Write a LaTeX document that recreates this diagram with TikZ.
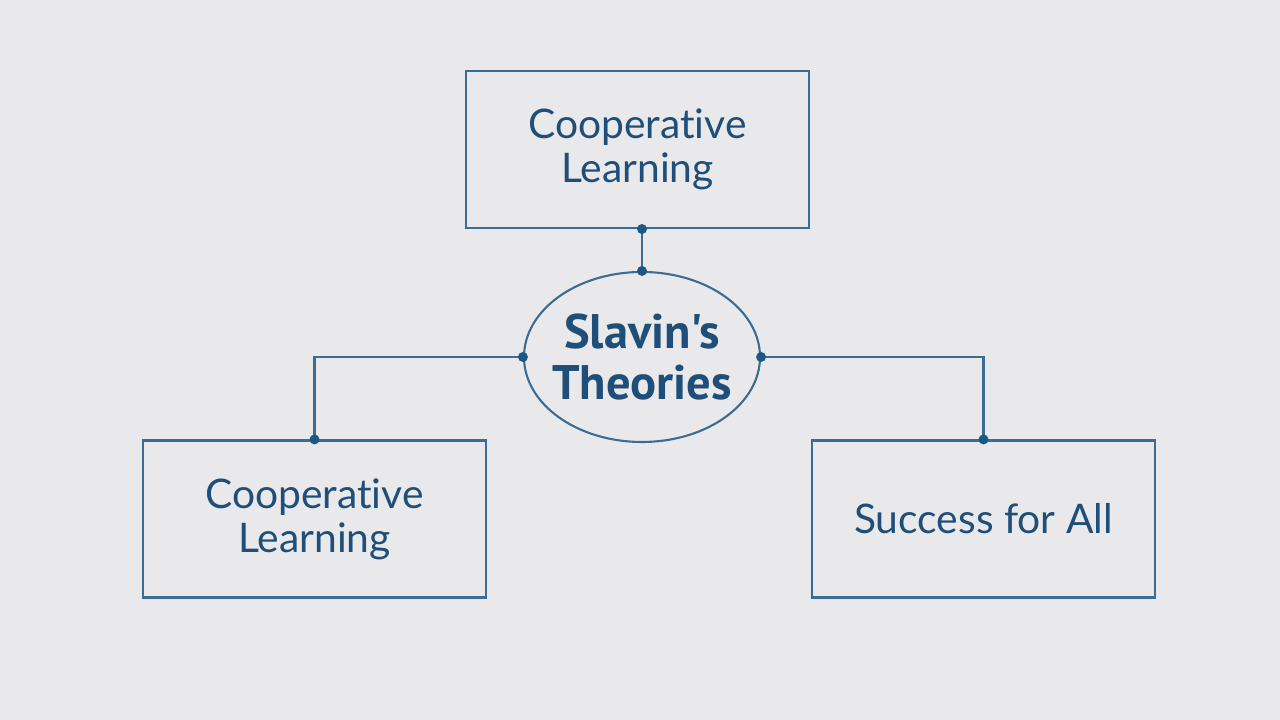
\documentclass[tikz,border=0pt]{standalone}
\usepackage{fontspec}
\setmainfont{Lato}[Ligatures={NoCommon}]
\newfontfamily\headfont{PT Sans}[Ligatures=TeXOff]
\usetikzlibrary{shapes.geometric}

\definecolor{bgcol}{HTML}{E9E9EB}
\definecolor{linecol}{HTML}{3B6C94}
\definecolor{textcol}{HTML}{1F4E79}
\definecolor{dotcol}{HTML}{1D5785}

\begin{document}
\begin{tikzpicture}[x=1cm, y=1cm]

% background and frame of the picture
\fill[bgcol] (0,0) rectangle (12.8,7.2);
\useasboundingbox (0,0) rectangle (12.8,7.2);

\tikzset{
  topic/.style={draw=linecol, line width=0.6pt, minimum width=3.43cm, minimum height=1.57cm,
    align=center, text=textcol, font=\fontsize{11.6}{12.5}\selectfont},
  hub/.style={ellipse, draw=linecol, line width=0.6pt, minimum width=2.36cm, minimum height=1.70cm,
    inner sep=0pt},
  hubtext/.style={align=center, text=textcol, inner sep=0pt,
    font=\headfont\bfseries\fontsize{13.8}{14.4}\selectfont},
  link/.style={draw=linecol, line width=0.6pt},
  dot/.style={fill=dotcol}
}

% the nodes
\node[hub] (slavin) at (6.42,3.63) {};
\node[hubtext] (slavinText) at (slavin) {Slavin's\\Theories};
\node[topic] (coopTop) at (6.375,5.705) {Cooperative\\Learning};
\node[topic] (coopLeft) at (3.145,2.01) {Cooperative\\Learning};
\node[topic] (sfa) at (9.835,2.01) {Success for All};

% the connectors
\draw[link] (coopTop.south -| slavin.north) -- (slavin.north);
\draw[link] (slavin.west) -| (coopLeft.north);
\draw[link] (slavin.east) -| (sfa.north);

% end points
\def\rdot{0.05}
\foreach \p in {coopTop.south -| slavin.north, slavin.north, slavin.west, coopLeft.north, slavin.east, sfa.north}
  \fill[dot] (\p) circle (\rdot);

\end{tikzpicture}
\end{document}
